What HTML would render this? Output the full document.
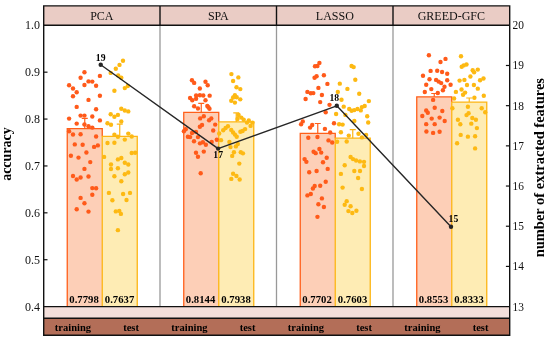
<!DOCTYPE html><html><head><meta charset="utf-8"><title>chart</title><style>html,body{margin:0;padding:0;background:#fff}svg{display:block}</style></head><body><svg width="550" height="342" viewBox="0 0 550 342" font-family="Liberation Serif, serif">
<rect width="550" height="342" fill="#fff"/>
<rect x="43.7" y="5.9" width="466.0" height="19.4" fill="#eaccc5"/>
<rect x="43.7" y="306.6" width="466.0" height="12" fill="#f3dfdb"/>
<rect x="43.7" y="318.3" width="466.0" height="16.9" fill="#b36e58"/>
<rect x="67.25" y="128.60" width="35" height="178.00" fill="#fdcfb7"/>
<path d="M67.25 306.6V128.60H102.25V136.30" fill="none" stroke="#ff5f1a" stroke-width="1.3"/>
<path d="M84.75 128.60V118.30M81.75 118.30H87.75" stroke="#ff5f1a" stroke-width="1.2" fill="none"/>
<rect x="102.25" y="136.30" width="35" height="170.30" fill="#feecb4"/>
<path d="M102.25 306.6V136.30H137.25V306.6" fill="none" stroke="#fdb515" stroke-width="1.3"/>
<path d="M119.75 136.30V124.20M116.75 124.20H122.75" stroke="#fdb515" stroke-width="1.2" fill="none"/>
<rect x="183.75" y="112.30" width="35" height="194.30" fill="#fdcfb7"/>
<path d="M183.75 306.6V112.30H218.75V121.90" fill="none" stroke="#ff5f1a" stroke-width="1.3"/>
<path d="M201.25 112.30V103.40M198.25 103.40H204.25" stroke="#ff5f1a" stroke-width="1.2" fill="none"/>
<rect x="218.75" y="121.90" width="35" height="184.70" fill="#feecb4"/>
<path d="M218.75 306.6V121.90H253.75V306.6" fill="none" stroke="#fdb515" stroke-width="1.3"/>
<path d="M236.25 121.90V112.90M233.25 112.90H239.25" stroke="#fdb515" stroke-width="1.2" fill="none"/>
<rect x="300.25" y="133.30" width="35" height="173.30" fill="#fdcfb7"/>
<path d="M300.25 306.6V133.30H335.25V138.20" fill="none" stroke="#ff5f1a" stroke-width="1.3"/>
<path d="M317.75 133.30V123.50M314.75 123.50H320.75" stroke="#ff5f1a" stroke-width="1.2" fill="none"/>
<rect x="335.25" y="138.20" width="35" height="168.40" fill="#feecb4"/>
<path d="M335.25 306.6V138.20H370.25V306.6" fill="none" stroke="#fdb515" stroke-width="1.3"/>
<path d="M352.75 138.20V129.70M349.75 129.70H355.75" stroke="#fdb515" stroke-width="1.2" fill="none"/>
<rect x="416.75" y="96.80" width="35" height="209.80" fill="#fdcfb7"/>
<path d="M416.75 306.6V96.80H451.75V102.10" fill="none" stroke="#ff5f1a" stroke-width="1.3"/>
<path d="M434.25 96.80V93.50M431.25 93.50H437.25" stroke="#ff5f1a" stroke-width="1.2" fill="none"/>
<rect x="451.75" y="102.10" width="35" height="204.50" fill="#feecb4"/>
<path d="M451.75 306.6V102.10H486.75V306.6" fill="none" stroke="#fdb515" stroke-width="1.3"/>
<path d="M469.25 102.10V98.00M466.25 98.00H472.25" stroke="#fdb515" stroke-width="1.2" fill="none"/>
<line x1="160.00" y1="25.3" x2="160.00" y2="306.6" stroke="#999" stroke-width="1.3"/>
<line x1="160.00" y1="5.9" x2="160.00" y2="25.3" stroke="#111" stroke-width="1.4"/>
<line x1="276.50" y1="25.3" x2="276.50" y2="306.6" stroke="#999" stroke-width="1.3"/>
<line x1="276.50" y1="5.9" x2="276.50" y2="25.3" stroke="#111" stroke-width="1.4"/>
<line x1="393.00" y1="25.3" x2="393.00" y2="306.6" stroke="#999" stroke-width="1.3"/>
<line x1="393.00" y1="5.9" x2="393.00" y2="25.3" stroke="#111" stroke-width="1.4"/>
<g fill="#ff5a1a"><circle cx="84.45" cy="72.20" r="2.2"/><circle cx="80.60" cy="77.70" r="2.2"/><circle cx="99.90" cy="75.90" r="2.2"/><circle cx="88.50" cy="81.40" r="2.2"/><circle cx="92.30" cy="81.60" r="2.2"/><circle cx="84.45" cy="85.00" r="2.2"/><circle cx="96.10" cy="85.70" r="2.2"/><circle cx="69.10" cy="85.30" r="2.2"/><circle cx="73.00" cy="88.50" r="2.2"/><circle cx="76.70" cy="92.30" r="2.2"/><circle cx="99.90" cy="95.80" r="2.2"/><circle cx="73.00" cy="96.20" r="2.2"/><circle cx="88.50" cy="99.90" r="2.2"/><circle cx="76.70" cy="106.90" r="2.2"/><circle cx="96.10" cy="109.30" r="2.2"/><circle cx="80.60" cy="115.60" r="2.2"/><circle cx="84.45" cy="115.60" r="2.2"/><circle cx="92.30" cy="116.50" r="2.2"/><circle cx="69.10" cy="118.60" r="2.2"/><circle cx="99.90" cy="120.40" r="2.2"/><circle cx="76.70" cy="123.60" r="2.2"/><circle cx="84.45" cy="124.50" r="2.2"/><circle cx="88.50" cy="126.20" r="2.2"/><circle cx="92.30" cy="127.60" r="2.2"/><circle cx="69.10" cy="131.20" r="2.2"/><circle cx="73.00" cy="134.50" r="2.2"/><circle cx="80.60" cy="134.20" r="2.2"/><circle cx="96.10" cy="136.50" r="2.2"/><circle cx="74.80" cy="144.40" r="2.2"/><circle cx="82.65" cy="144.70" r="2.2"/><circle cx="97.85" cy="145.40" r="2.2"/><circle cx="94.10" cy="146.90" r="2.2"/><circle cx="86.40" cy="152.45" r="2.2"/><circle cx="70.90" cy="155.80" r="2.2"/><circle cx="78.50" cy="157.60" r="2.2"/><circle cx="90.25" cy="162.10" r="2.2"/><circle cx="84.45" cy="168.90" r="2.2"/><circle cx="73.00" cy="176.00" r="2.2"/><circle cx="80.60" cy="177.50" r="2.2"/><circle cx="88.50" cy="176.50" r="2.2"/><circle cx="76.70" cy="179.50" r="2.2"/><circle cx="92.30" cy="188.10" r="2.2"/><circle cx="96.10" cy="188.20" r="2.2"/><circle cx="92.30" cy="194.70" r="2.2"/><circle cx="80.60" cy="197.90" r="2.2"/><circle cx="84.45" cy="203.30" r="2.2"/><circle cx="76.70" cy="209.20" r="2.2"/><circle cx="88.50" cy="211.60" r="2.2"/></g>
<g fill="#ff5a1a"><circle cx="191.96" cy="80.20" r="2.2"/><circle cx="194.16" cy="82.90" r="2.2"/><circle cx="205.50" cy="81.70" r="2.2"/><circle cx="207.70" cy="85.30" r="2.2"/><circle cx="199.86" cy="88.50" r="2.2"/><circle cx="196.10" cy="95.50" r="2.2"/><circle cx="199.90" cy="95.30" r="2.2"/><circle cx="203.30" cy="95.50" r="2.2"/><circle cx="209.65" cy="95.65" r="2.2"/><circle cx="190.10" cy="98.00" r="2.2"/><circle cx="192.30" cy="100.20" r="2.2"/><circle cx="196.10" cy="98.70" r="2.2"/><circle cx="205.50" cy="100.20" r="2.2"/><circle cx="194.16" cy="106.25" r="2.2"/><circle cx="197.96" cy="108.45" r="2.2"/><circle cx="207.30" cy="105.90" r="2.2"/><circle cx="209.50" cy="108.70" r="2.2"/><circle cx="208.40" cy="107.30" r="2.2"/><circle cx="203.80" cy="116.20" r="2.2"/><circle cx="200.15" cy="118.40" r="2.2"/><circle cx="211.30" cy="118.40" r="2.2"/><circle cx="209.10" cy="120.20" r="2.2"/><circle cx="202.05" cy="125.00" r="2.2"/><circle cx="199.86" cy="126.80" r="2.2"/><circle cx="215.20" cy="124.60" r="2.2"/><circle cx="213.20" cy="130.50" r="2.2"/><circle cx="185.75" cy="129.15" r="2.2"/><circle cx="183.90" cy="131.20" r="2.2"/><circle cx="192.00" cy="133.00" r="2.2"/><circle cx="196.00" cy="131.90" r="2.2"/><circle cx="187.90" cy="136.80" r="2.2"/><circle cx="190.10" cy="137.10" r="2.2"/><circle cx="197.96" cy="137.10" r="2.2"/><circle cx="194.00" cy="141.20" r="2.2"/><circle cx="216.80" cy="139.70" r="2.2"/><circle cx="211.70" cy="141.90" r="2.2"/><circle cx="200.00" cy="143.35" r="2.2"/><circle cx="202.90" cy="142.25" r="2.2"/><circle cx="205.85" cy="144.80" r="2.2"/><circle cx="196.00" cy="152.70" r="2.2"/><circle cx="203.80" cy="151.60" r="2.2"/><circle cx="197.96" cy="156.80" r="2.2"/><circle cx="200.70" cy="173.30" r="2.2"/></g>
<g fill="#ff5a1a"><circle cx="319.40" cy="62.90" r="2.2"/><circle cx="317.45" cy="66.00" r="2.2"/><circle cx="315.00" cy="66.20" r="2.2"/><circle cx="316.60" cy="76.30" r="2.2"/><circle cx="314.55" cy="77.70" r="2.2"/><circle cx="323.90" cy="75.20" r="2.2"/><circle cx="327.40" cy="83.90" r="2.2"/><circle cx="318.40" cy="87.90" r="2.2"/><circle cx="307.40" cy="91.90" r="2.2"/><circle cx="310.80" cy="93.20" r="2.2"/><circle cx="313.30" cy="93.10" r="2.2"/><circle cx="321.90" cy="95.00" r="2.2"/><circle cx="305.60" cy="99.05" r="2.2"/><circle cx="320.20" cy="102.10" r="2.2"/><circle cx="329.50" cy="104.85" r="2.2"/><circle cx="325.70" cy="112.20" r="2.2"/><circle cx="302.80" cy="121.40" r="2.2"/><circle cx="301.10" cy="124.20" r="2.2"/><circle cx="312.20" cy="125.00" r="2.2"/><circle cx="310.10" cy="127.60" r="2.2"/><circle cx="334.00" cy="123.20" r="2.2"/><circle cx="324.90" cy="128.90" r="2.2"/><circle cx="330.20" cy="132.50" r="2.2"/><circle cx="308.30" cy="137.70" r="2.2"/><circle cx="317.45" cy="137.00" r="2.2"/><circle cx="328.50" cy="140.40" r="2.2"/><circle cx="332.20" cy="142.50" r="2.2"/><circle cx="319.40" cy="149.00" r="2.2"/><circle cx="313.60" cy="151.80" r="2.2"/><circle cx="315.65" cy="153.15" r="2.2"/><circle cx="321.20" cy="152.60" r="2.2"/><circle cx="326.70" cy="157.70" r="2.2"/><circle cx="304.60" cy="159.10" r="2.2"/><circle cx="306.40" cy="161.85" r="2.2"/><circle cx="323.00" cy="162.30" r="2.2"/><circle cx="327.70" cy="168.90" r="2.2"/><circle cx="316.60" cy="171.05" r="2.2"/><circle cx="309.20" cy="172.20" r="2.2"/><circle cx="325.70" cy="181.80" r="2.2"/><circle cx="320.20" cy="185.70" r="2.2"/><circle cx="314.70" cy="186.00" r="2.2"/><circle cx="312.90" cy="188.45" r="2.2"/><circle cx="310.80" cy="194.00" r="2.2"/><circle cx="307.40" cy="195.40" r="2.2"/><circle cx="321.90" cy="198.40" r="2.2"/><circle cx="318.40" cy="204.20" r="2.2"/><circle cx="323.90" cy="207.00" r="2.2"/><circle cx="317.45" cy="216.85" r="2.2"/></g>
<g fill="#ff5a1a"><circle cx="428.90" cy="55.30" r="2.2"/><circle cx="445.50" cy="58.90" r="2.2"/><circle cx="440.50" cy="62.00" r="2.2"/><circle cx="430.60" cy="70.90" r="2.2"/><circle cx="437.20" cy="70.70" r="2.2"/><circle cx="442.05" cy="72.05" r="2.2"/><circle cx="447.20" cy="73.70" r="2.2"/><circle cx="423.00" cy="75.80" r="2.2"/><circle cx="429.50" cy="79.20" r="2.2"/><circle cx="436.10" cy="79.90" r="2.2"/><circle cx="438.60" cy="81.60" r="2.2"/><circle cx="441.20" cy="83.10" r="2.2"/><circle cx="447.20" cy="80.30" r="2.2"/><circle cx="450.60" cy="84.75" r="2.2"/><circle cx="426.20" cy="84.75" r="2.2"/><circle cx="444.50" cy="86.80" r="2.2"/><circle cx="431.30" cy="89.10" r="2.2"/><circle cx="442.90" cy="90.25" r="2.2"/><circle cx="424.80" cy="92.00" r="2.2"/><circle cx="437.80" cy="93.00" r="2.2"/><circle cx="433.10" cy="99.90" r="2.2"/><circle cx="434.70" cy="107.80" r="2.2"/><circle cx="426.20" cy="110.50" r="2.2"/><circle cx="427.80" cy="112.70" r="2.2"/><circle cx="442.30" cy="110.95" r="2.2"/><circle cx="422.30" cy="116.05" r="2.2"/><circle cx="431.70" cy="118.60" r="2.2"/><circle cx="439.60" cy="117.60" r="2.2"/><circle cx="444.70" cy="121.00" r="2.2"/><circle cx="426.20" cy="124.15" r="2.2"/><circle cx="434.70" cy="124.15" r="2.2"/><circle cx="426.40" cy="131.50" r="2.2"/><circle cx="439.60" cy="131.80" r="2.2"/><circle cx="433.10" cy="132.90" r="2.2"/></g>
<g fill="#fdb913"><circle cx="123.00" cy="60.70" r="2.2"/><circle cx="119.50" cy="64.90" r="2.2"/><circle cx="115.80" cy="68.70" r="2.2"/><circle cx="110.70" cy="72.90" r="2.2"/><circle cx="118.20" cy="75.40" r="2.2"/><circle cx="121.30" cy="77.70" r="2.2"/><circle cx="127.80" cy="86.00" r="2.2"/><circle cx="124.80" cy="88.10" r="2.2"/><circle cx="114.40" cy="90.80" r="2.2"/><circle cx="121.30" cy="108.70" r="2.2"/><circle cx="124.80" cy="110.50" r="2.2"/><circle cx="128.30" cy="111.40" r="2.2"/><circle cx="110.70" cy="114.20" r="2.2"/><circle cx="117.90" cy="114.90" r="2.2"/><circle cx="114.40" cy="116.70" r="2.2"/><circle cx="121.30" cy="121.50" r="2.2"/><circle cx="107.50" cy="123.20" r="2.2"/><circle cx="111.00" cy="124.80" r="2.2"/><circle cx="128.30" cy="133.60" r="2.2"/><circle cx="114.40" cy="134.70" r="2.2"/><circle cx="131.70" cy="136.50" r="2.2"/><circle cx="117.90" cy="136.80" r="2.2"/><circle cx="124.80" cy="139.60" r="2.2"/><circle cx="107.50" cy="143.05" r="2.2"/><circle cx="114.40" cy="142.80" r="2.2"/><circle cx="131.70" cy="153.00" r="2.2"/><circle cx="135.20" cy="152.70" r="2.2"/><circle cx="104.10" cy="156.90" r="2.2"/><circle cx="121.30" cy="158.00" r="2.2"/><circle cx="117.90" cy="159.40" r="2.2"/><circle cx="124.80" cy="162.70" r="2.2"/><circle cx="128.30" cy="164.50" r="2.2"/><circle cx="111.00" cy="164.50" r="2.2"/><circle cx="111.00" cy="169.00" r="2.2"/><circle cx="117.90" cy="168.20" r="2.2"/><circle cx="128.30" cy="172.50" r="2.2"/><circle cx="124.80" cy="174.30" r="2.2"/><circle cx="114.40" cy="176.20" r="2.2"/><circle cx="121.30" cy="181.20" r="2.2"/><circle cx="108.90" cy="192.90" r="2.2"/><circle cx="123.10" cy="194.00" r="2.2"/><circle cx="130.00" cy="192.90" r="2.2"/><circle cx="112.40" cy="200.25" r="2.2"/><circle cx="126.50" cy="200.00" r="2.2"/><circle cx="115.80" cy="211.40" r="2.2"/><circle cx="119.30" cy="210.90" r="2.2"/><circle cx="120.90" cy="213.90" r="2.2"/><circle cx="117.90" cy="230.15" r="2.2"/></g>
<g fill="#fdb913"><circle cx="241.30" cy="117.60" r="2.2"/><circle cx="231.40" cy="74.10" r="2.2"/><circle cx="238.35" cy="77.40" r="2.2"/><circle cx="233.10" cy="80.95" r="2.2"/><circle cx="236.50" cy="87.30" r="2.2"/><circle cx="240.30" cy="89.10" r="2.2"/><circle cx="234.90" cy="95.30" r="2.2"/><circle cx="233.10" cy="97.50" r="2.2"/><circle cx="236.70" cy="97.20" r="2.2"/><circle cx="240.25" cy="99.35" r="2.2"/><circle cx="231.25" cy="100.80" r="2.2"/><circle cx="234.90" cy="102.60" r="2.2"/><circle cx="238.60" cy="115.00" r="2.2"/><circle cx="237.50" cy="119.00" r="2.2"/><circle cx="243.70" cy="119.70" r="2.2"/><circle cx="248.80" cy="120.45" r="2.2"/><circle cx="252.45" cy="122.60" r="2.2"/><circle cx="247.00" cy="122.60" r="2.2"/><circle cx="250.60" cy="125.90" r="2.2"/><circle cx="227.96" cy="126.20" r="2.2"/><circle cx="225.60" cy="128.00" r="2.2"/><circle cx="223.20" cy="130.20" r="2.2"/><circle cx="219.20" cy="133.50" r="2.2"/><circle cx="231.25" cy="129.90" r="2.2"/><circle cx="233.10" cy="132.40" r="2.2"/><circle cx="234.90" cy="134.60" r="2.2"/><circle cx="236.70" cy="136.80" r="2.2"/><circle cx="240.40" cy="131.70" r="2.2"/><circle cx="242.60" cy="131.00" r="2.2"/><circle cx="245.10" cy="129.10" r="2.2"/><circle cx="221.00" cy="140.15" r="2.2"/><circle cx="229.40" cy="141.95" r="2.2"/><circle cx="237.80" cy="144.00" r="2.2"/><circle cx="235.86" cy="146.40" r="2.2"/><circle cx="230.50" cy="147.10" r="2.2"/><circle cx="233.96" cy="152.25" r="2.2"/><circle cx="232.20" cy="155.90" r="2.2"/><circle cx="240.76" cy="152.25" r="2.2"/><circle cx="242.95" cy="153.35" r="2.2"/><circle cx="239.30" cy="163.60" r="2.2"/><circle cx="233.10" cy="173.70" r="2.2"/><circle cx="236.40" cy="176.00" r="2.2"/><circle cx="231.30" cy="178.90" r="2.2"/><circle cx="239.65" cy="179.55" r="2.2"/></g>
<g fill="#fdb913"><circle cx="351.60" cy="66.00" r="2.2"/><circle cx="353.65" cy="67.10" r="2.2"/><circle cx="355.30" cy="79.80" r="2.2"/><circle cx="339.80" cy="83.65" r="2.2"/><circle cx="347.40" cy="88.90" r="2.2"/><circle cx="337.80" cy="91.90" r="2.2"/><circle cx="359.20" cy="93.70" r="2.2"/><circle cx="341.50" cy="99.75" r="2.2"/><circle cx="368.85" cy="101.10" r="2.2"/><circle cx="343.70" cy="106.65" r="2.2"/><circle cx="364.70" cy="106.00" r="2.2"/><circle cx="361.90" cy="107.10" r="2.2"/><circle cx="349.20" cy="109.00" r="2.2"/><circle cx="351.60" cy="110.80" r="2.2"/><circle cx="354.30" cy="110.10" r="2.2"/><circle cx="357.50" cy="109.00" r="2.2"/><circle cx="360.80" cy="110.40" r="2.2"/><circle cx="336.10" cy="114.00" r="2.2"/><circle cx="345.40" cy="114.90" r="2.2"/><circle cx="367.20" cy="116.30" r="2.2"/><circle cx="354.30" cy="120.90" r="2.2"/><circle cx="368.20" cy="122.50" r="2.2"/><circle cx="339.10" cy="124.20" r="2.2"/><circle cx="342.60" cy="124.60" r="2.2"/><circle cx="340.90" cy="132.30" r="2.2"/><circle cx="358.50" cy="133.70" r="2.2"/><circle cx="348.80" cy="135.60" r="2.2"/><circle cx="366.10" cy="134.90" r="2.2"/><circle cx="361.90" cy="137.40" r="2.2"/><circle cx="337.10" cy="141.80" r="2.2"/><circle cx="346.70" cy="141.50" r="2.2"/><circle cx="350.60" cy="157.00" r="2.2"/><circle cx="353.00" cy="159.10" r="2.2"/><circle cx="356.10" cy="160.50" r="2.2"/><circle cx="359.90" cy="161.40" r="2.2"/><circle cx="364.00" cy="161.85" r="2.2"/><circle cx="364.00" cy="166.00" r="2.2"/><circle cx="344.70" cy="165.30" r="2.2"/><circle cx="354.30" cy="171.05" r="2.2"/><circle cx="360.00" cy="171.05" r="2.2"/><circle cx="340.90" cy="173.90" r="2.2"/><circle cx="358.10" cy="177.95" r="2.2"/><circle cx="342.60" cy="187.60" r="2.2"/><circle cx="361.90" cy="189.00" r="2.2"/><circle cx="346.70" cy="201.15" r="2.2"/><circle cx="344.70" cy="204.70" r="2.2"/><circle cx="350.60" cy="206.30" r="2.2"/><circle cx="348.40" cy="211.10" r="2.2"/><circle cx="356.40" cy="210.80" r="2.2"/><circle cx="352.30" cy="213.00" r="2.2"/></g>
<g fill="#fdb913"><circle cx="461.00" cy="56.20" r="2.2"/><circle cx="466.50" cy="64.45" r="2.2"/><circle cx="463.70" cy="65.40" r="2.2"/><circle cx="461.70" cy="66.80" r="2.2"/><circle cx="477.80" cy="69.60" r="2.2"/><circle cx="472.70" cy="70.25" r="2.2"/><circle cx="474.10" cy="72.30" r="2.2"/><circle cx="470.40" cy="76.50" r="2.2"/><circle cx="483.50" cy="78.50" r="2.2"/><circle cx="480.05" cy="80.20" r="2.2"/><circle cx="459.60" cy="80.60" r="2.2"/><circle cx="464.40" cy="79.90" r="2.2"/><circle cx="467.00" cy="85.05" r="2.2"/><circle cx="473.90" cy="85.05" r="2.2"/><circle cx="477.80" cy="88.65" r="2.2"/><circle cx="461.55" cy="89.55" r="2.2"/><circle cx="455.90" cy="91.90" r="2.2"/><circle cx="465.10" cy="92.60" r="2.2"/><circle cx="463.05" cy="94.80" r="2.2"/><circle cx="483.80" cy="95.75" r="2.2"/><circle cx="454.10" cy="98.50" r="2.2"/><circle cx="474.40" cy="97.80" r="2.2"/><circle cx="467.90" cy="106.80" r="2.2"/><circle cx="452.40" cy="108.20" r="2.2"/><circle cx="481.70" cy="108.20" r="2.2"/><circle cx="485.20" cy="112.30" r="2.2"/><circle cx="468.60" cy="113.30" r="2.2"/><circle cx="466.50" cy="115.10" r="2.2"/><circle cx="472.30" cy="118.00" r="2.2"/><circle cx="475.90" cy="119.80" r="2.2"/><circle cx="457.90" cy="119.80" r="2.2"/><circle cx="460.30" cy="124.30" r="2.2"/><circle cx="471.30" cy="123.65" r="2.2"/><circle cx="476.90" cy="128.10" r="2.2"/><circle cx="460.70" cy="134.90" r="2.2"/><circle cx="467.90" cy="136.65" r="2.2"/><circle cx="475.10" cy="136.20" r="2.2"/><circle cx="457.10" cy="143.30" r="2.2"/><circle cx="475.10" cy="148.40" r="2.2"/></g>
<path d="M43.7 5.9H509.7V335.2H43.7Z M43.7 25.3H509.7 M43.7 306.6H509.7 M43.7 318.3H509.7" fill="none" stroke="#111" stroke-width="1.4"/>
<text x="40" y="310.50" font-size="12.5" text-anchor="end" fill="#111" textLength="15" lengthAdjust="spacingAndGlyphs">0.4</text>
<line x1="43.7" y1="259.72" x2="47.5" y2="259.72" stroke="#111" stroke-width="1.2"/>
<text x="40" y="263.62" font-size="12.5" text-anchor="end" fill="#111" textLength="15" lengthAdjust="spacingAndGlyphs">0.5</text>
<line x1="43.7" y1="212.83" x2="47.5" y2="212.83" stroke="#111" stroke-width="1.2"/>
<text x="40" y="216.73" font-size="12.5" text-anchor="end" fill="#111" textLength="15" lengthAdjust="spacingAndGlyphs">0.6</text>
<line x1="43.7" y1="165.95" x2="47.5" y2="165.95" stroke="#111" stroke-width="1.2"/>
<text x="40" y="169.85" font-size="12.5" text-anchor="end" fill="#111" textLength="15" lengthAdjust="spacingAndGlyphs">0.7</text>
<line x1="43.7" y1="119.07" x2="47.5" y2="119.07" stroke="#111" stroke-width="1.2"/>
<text x="40" y="122.97" font-size="12.5" text-anchor="end" fill="#111" textLength="15" lengthAdjust="spacingAndGlyphs">0.8</text>
<line x1="43.7" y1="72.18" x2="47.5" y2="72.18" stroke="#111" stroke-width="1.2"/>
<text x="40" y="76.08" font-size="12.5" text-anchor="end" fill="#111" textLength="15" lengthAdjust="spacingAndGlyphs">0.9</text>
<text x="40" y="29.20" font-size="12.5" text-anchor="end" fill="#111" textLength="15" lengthAdjust="spacingAndGlyphs">1.0</text>
<text x="512.5" y="310.50" font-size="12.5" fill="#111" textLength="11.4" lengthAdjust="spacingAndGlyphs">13</text>
<line x1="509.7" y1="266.41" x2="505.9" y2="266.41" stroke="#111" stroke-width="1.2"/>
<text x="512.5" y="270.31" font-size="12.5" fill="#111" textLength="11.4" lengthAdjust="spacingAndGlyphs">14</text>
<line x1="509.7" y1="226.23" x2="505.9" y2="226.23" stroke="#111" stroke-width="1.2"/>
<text x="512.5" y="230.13" font-size="12.5" fill="#111" textLength="11.4" lengthAdjust="spacingAndGlyphs">15</text>
<line x1="509.7" y1="186.04" x2="505.9" y2="186.04" stroke="#111" stroke-width="1.2"/>
<text x="512.5" y="189.94" font-size="12.5" fill="#111" textLength="11.4" lengthAdjust="spacingAndGlyphs">16</text>
<line x1="509.7" y1="145.86" x2="505.9" y2="145.86" stroke="#111" stroke-width="1.2"/>
<text x="512.5" y="149.76" font-size="12.5" fill="#111" textLength="11.4" lengthAdjust="spacingAndGlyphs">17</text>
<line x1="509.7" y1="105.67" x2="505.9" y2="105.67" stroke="#111" stroke-width="1.2"/>
<text x="512.5" y="109.57" font-size="12.5" fill="#111" textLength="11.4" lengthAdjust="spacingAndGlyphs">18</text>
<line x1="509.7" y1="65.49" x2="505.9" y2="65.49" stroke="#111" stroke-width="1.2"/>
<text x="512.5" y="69.39" font-size="12.5" fill="#111" textLength="11.4" lengthAdjust="spacingAndGlyphs">19</text>
<text x="512.5" y="29.20" font-size="12.5" fill="#111" textLength="11.4" lengthAdjust="spacingAndGlyphs">20</text>
<text x="101.85" y="20" font-size="12" text-anchor="middle" fill="#111">PCA</text>
<text x="72.95" y="331" font-size="10.5" font-weight="bold" text-anchor="middle" fill="#000">training</text>
<text x="131.05" y="331" font-size="10.5" font-weight="bold" text-anchor="middle" fill="#000">test</text>
<text x="84.05" y="302.5" font-size="10.7" font-weight="bold" text-anchor="middle" fill="#000">0.7798</text>
<text x="119.55" y="302.5" font-size="10.7" font-weight="bold" text-anchor="middle" fill="#000">0.7637</text>
<text x="218.35" y="20" font-size="12" text-anchor="middle" fill="#111">SPA</text>
<text x="189.45" y="331" font-size="10.5" font-weight="bold" text-anchor="middle" fill="#000">training</text>
<text x="247.55" y="331" font-size="10.5" font-weight="bold" text-anchor="middle" fill="#000">test</text>
<text x="200.55" y="302.5" font-size="10.7" font-weight="bold" text-anchor="middle" fill="#000">0.8144</text>
<text x="236.05" y="302.5" font-size="10.7" font-weight="bold" text-anchor="middle" fill="#000">0.7938</text>
<text x="334.85" y="20" font-size="12" text-anchor="middle" fill="#111">LASSO</text>
<text x="305.95" y="331" font-size="10.5" font-weight="bold" text-anchor="middle" fill="#000">training</text>
<text x="364.05" y="331" font-size="10.5" font-weight="bold" text-anchor="middle" fill="#000">test</text>
<text x="317.05" y="302.5" font-size="10.7" font-weight="bold" text-anchor="middle" fill="#000">0.7702</text>
<text x="352.55" y="302.5" font-size="10.7" font-weight="bold" text-anchor="middle" fill="#000">0.7603</text>
<text x="451.35" y="20" font-size="12" text-anchor="middle" fill="#111">GREED-GFC</text>
<text x="422.45" y="331" font-size="10.5" font-weight="bold" text-anchor="middle" fill="#000">training</text>
<text x="480.55" y="331" font-size="10.5" font-weight="bold" text-anchor="middle" fill="#000">test</text>
<text x="433.55" y="302.5" font-size="10.7" font-weight="bold" text-anchor="middle" fill="#000">0.8553</text>
<text x="469.05" y="302.5" font-size="10.7" font-weight="bold" text-anchor="middle" fill="#000">0.8333</text>
<polyline points="100.70,64.70 218.10,148.60 336.80,105.80 451.00,226.70" fill="none" stroke="#262626" stroke-width="1.4" stroke-linejoin="round"/>
<circle cx="100.70" cy="64.70" r="2.2" fill="#262626"/>
<circle cx="218.10" cy="148.60" r="2.2" fill="#262626"/>
<circle cx="336.80" cy="105.80" r="2.2" fill="#262626"/>
<circle cx="451.00" cy="226.70" r="2.2" fill="#262626"/>
<text x="100.65" y="60.6" font-size="9.7" font-weight="bold" text-anchor="middle" fill="#000">19</text>
<text x="218.2" y="158" font-size="9.7" font-weight="bold" text-anchor="middle" fill="#000">17</text>
<text x="334.3" y="100.8" font-size="9.7" font-weight="bold" text-anchor="middle" fill="#000">18</text>
<text x="453.4" y="221.6" font-size="9.7" font-weight="bold" text-anchor="middle" fill="#000">15</text>
<text transform="translate(11.4,154.1) rotate(-90)" font-size="13.8" font-weight="bold" text-anchor="middle" fill="#000" textLength="53.4" lengthAdjust="spacingAndGlyphs">accuracy</text>
<text transform="translate(543.8,167.7) rotate(-90)" font-size="13.8" font-weight="bold" text-anchor="middle" fill="#000" textLength="179.3" lengthAdjust="spacingAndGlyphs">number of extracted features</text>
</svg></body></html>
